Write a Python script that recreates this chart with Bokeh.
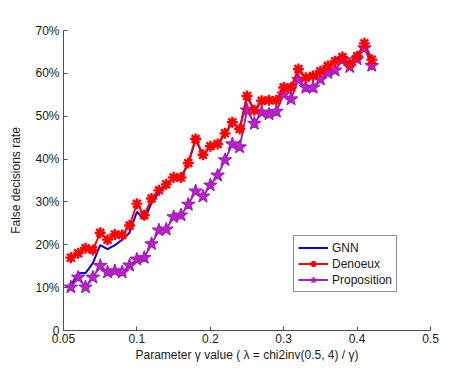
from bokeh.plotting import figure
from bokeh.models import Legend, LegendItem, FixedTicker, Range1d
from bokeh.embed import file_html
from bokeh.resources import INLINE

# x positions on the axis (tick at 0 is labelled "0.05")
x_vals = [0.01, 0.02, 0.03, 0.04, 0.05, 0.06, 0.07, 0.08, 0.09, 0.10,
          0.11, 0.12, 0.13, 0.14, 0.15, 0.16, 0.17, 0.18, 0.19, 0.20,
          0.21, 0.22, 0.23, 0.24, 0.25, 0.26, 0.27, 0.28, 0.29, 0.30,
          0.31, 0.32, 0.33, 0.34, 0.35, 0.36, 0.37, 0.38, 0.39, 0.40,
          0.41, 0.42]

denoeux = [17.0, 18.0, 19.2, 18.8, 22.8, 21.2, 22.4, 22.3, 24.5, 29.6,
           26.9, 30.8, 32.7, 34.1, 35.7, 35.7, 39.1, 44.7, 41.0, 43.0,
           43.5, 46.0, 48.6, 47.0, 54.7, 51.4, 53.6, 53.7, 53.7, 56.7,
           56.7, 61.0, 59.0, 59.4, 60.5, 61.7, 62.8, 63.8, 62.3, 64.0,
           67.0, 63.2]

gnn = [10.5, 13.4, 13.4, 15.7, 19.9, 19.0, 19.9, 21.2, 22.8, 27.7,
       25.9, 29.8, 32.3, 33.8, 35.5, 35.6, 39.0, 44.6, 40.9, 42.9,
       43.4, 45.9, 48.5, 46.9, 54.6, 51.3, 53.5, 53.6, 53.6, 56.6,
       56.6, 60.9, 58.9, 59.3, 60.4, 61.6, 62.7, 63.7, 62.2, 63.9,
       66.9, 63.1]

proposition = [10.1, 12.4, 10.1, 12.4, 15.1, 13.6, 13.9, 13.6, 15.2, 16.6,
               17.0, 20.2, 23.4, 23.6, 26.5, 26.9, 29.4, 32.5, 31.3, 33.9,
               36.2, 39.8, 43.5, 42.8, 51.4, 48.3, 50.9, 50.5, 51.1, 55.1,
               54.0, 58.5, 56.7, 56.7, 58.6, 60.1, 60.7, 63.2, 61.5, 63.3,
               65.9, 61.8]

x_ticks = [0.0, 0.1, 0.2, 0.3, 0.4, 0.5]
x_tick_labels = ["0.05", "0.1", "0.2", "0.3", "0.4", "0.5"]
y_ticks = [0, 10, 20, 30, 40, 50, 60, 70]
y_tick_labels = ["0", "10%", "20%", "30%", "40%", "50%", "60%", "70%"]

FONT = "Liberation Sans"

p = figure(width=460, height=364, output_backend="svg", toolbar_location=None,
           x_range=Range1d(0, 0.5), y_range=Range1d(0, 70),
           min_border_left=63, min_border_right=30, min_border_top=30,
           min_border_bottom=32)
p.outline_line_color = None
p.xgrid.visible = False
p.ygrid.visible = False
p.background_fill_color = "white"
p.border_fill_color = "white"

for ax in (p.xaxis[0], p.yaxis[0]):
    ax.axis_line_color = "#505050"
    ax.major_tick_line_color = "#505050"
    ax.major_tick_in = 4
    ax.major_tick_out = 0
    ax.minor_tick_line_color = None
    ax.major_label_text_font = FONT
    ax.major_label_text_font_size = "12px"
    ax.major_label_text_color = "#1a1a1a"
    ax.axis_label_text_font = FONT
    ax.axis_label_text_font_size = "12px"
    ax.axis_label_text_font_style = "normal"
    ax.axis_label_text_color = "#1a1a1a"

p.xaxis.ticker = FixedTicker(ticks=x_ticks)
p.xaxis.major_label_overrides = {t: l for t, l in zip(x_ticks, x_tick_labels)}
p.yaxis.ticker = FixedTicker(ticks=y_ticks)
p.yaxis.major_label_overrides = {t: l for t, l in zip(y_ticks, y_tick_labels)}
p.xaxis.axis_label = "Parameter γ value ( λ = chi2inv(0.5, 4) / γ)"
p.yaxis.axis_label = "False decisions rate"
p.xaxis.major_label_standoff = 3
p.xaxis.axis_label_standoff = 2
p.yaxis.major_label_standoff = 4
p.yaxis.axis_label_standoff = 9

blue = "#0000F0"
red = "#FF0000"
purple_fill = "#C01ECC"
purple_line = "#A020B8"

r_gnn = p.line(x_vals, gnn, line_color=blue, line_width=2)

r_pl = p.line(x_vals, proposition, line_color=purple_line, line_width=2)
r_ps = p.scatter(x_vals, proposition, marker="star", size=14,
                 fill_color=purple_fill, line_color=purple_line, line_width=1.2)

r_dl = p.line(x_vals, denoeux, line_color=red, line_width=2)
r_ds = p.scatter(x_vals, denoeux, marker="asterisk", size=11,
                 line_color=red, line_width=2.4)

legend = Legend(items=[
    LegendItem(label="GNN", renderers=[r_gnn]),
    LegendItem(label="Denoeux", renderers=[r_dl, r_ds]),
    LegendItem(label="Proposition", renderers=[r_pl, r_ps]),
], location=(230, 38))
legend.label_text_font = FONT
legend.label_text_font_size = "12px"
legend.label_text_color = "#1a1a1a"
legend.border_line_color = "#202020"
legend.border_line_width = 1
legend.background_fill_alpha = 1
legend.glyph_width = 30
legend.glyph_height = 15
legend.label_height = 15
legend.label_standoff = 4
legend.spacing = 1
legend.padding = 4
legend.margin = 0
p.add_layout(legend, "center")

open("out.html", "w").write(file_html(p, INLINE))
